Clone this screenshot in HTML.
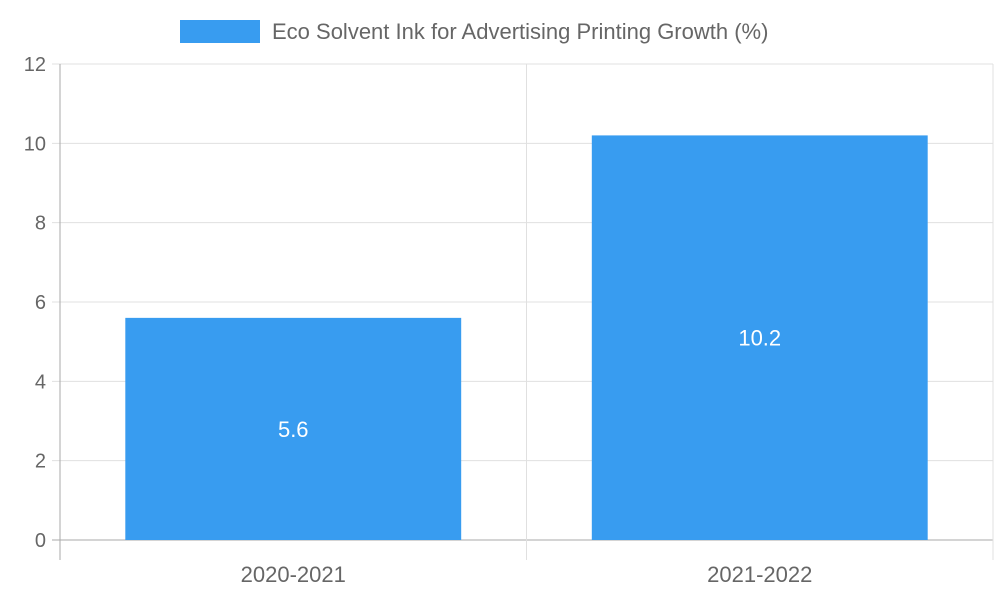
<!DOCTYPE html>
<html><head><meta charset="utf-8"><style>
body{margin:0;background:#fff;font-family:"Liberation Sans",sans-serif}
</style></head><body>
<svg id="c" width="1000" height="600"></svg>
<script>
const categories=["2020-2021","2021-2022"];
const values=[5.6,10.2];
const yTicks=[0,2,4,6,8,10,12];
const seriesName="Eco Solvent Ink for Advertising Printing Growth (%)";
const svg=document.getElementById('c');
const NS="http://www.w3.org/2000/svg";
const L=60,R=993,T=64,B=540,yMax=12;
const y=v=>B-(v/yMax)*(B-T);
const bw=(R-L)/categories.length;
const x=i=>L+bw*i;
function mk(t,a,txt){const e=document.createElementNS(NS,t);for(const k in a)e.setAttribute(k,a[k]);if(txt!==undefined)e.textContent=txt;svg.appendChild(e);return e;}
yTicks.forEach(t=>{
 const g=mk('line',{x1:L-8,x2:R,y1:y(t),y2:y(t),stroke:t===0?'#aaa':'#e0e0e0','stroke-width':1});
 
 const tx=mk('text',{x:L-14,y:y(t)+7,'text-anchor':'end','font-size':20,fill:'#666'},t);
 
});
for(let i=0;i<=categories.length;i++){
 const g=mk('line',{x1:x(i),x2:x(i),y1:T,y2:B+20,stroke:i===0?'#aaa':'#e0e0e0','stroke-width':1});
 
}
categories.forEach((c,i)=>{
 const bx=x(i)+bw*0.14,w=bw*0.72;
 const r=mk('rect',{x:bx,y:y(values[i]),width:w,height:B-y(values[i]),fill:'#389cf0'});
 
 const v=mk('text',{x:bx+w/2,y:(y(values[i])+B)/2+8,'text-anchor':'middle','font-size':22,fill:'#fff'},values[i]);
 
 const l=mk('text',{x:x(i)+bw/2,y:582,'text-anchor':'middle','font-size':22,fill:'#666'},c);
 
});
const lr=mk('rect',{x:180,y:20,width:80,height:23,fill:'#389cf0'});

const lt=mk('text',{x:272,y:39,'font-size':22,fill:'#666'},seriesName);

</script>
</body></html>
